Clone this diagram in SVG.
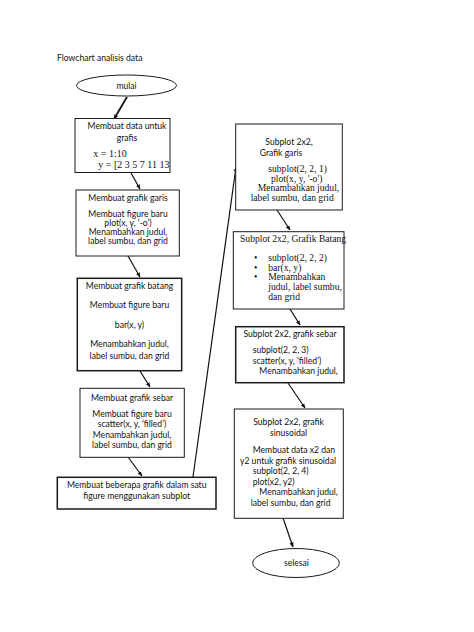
<svg xmlns="http://www.w3.org/2000/svg" width="474" height="632" viewBox="0 0 474 632">
<style>
.bg{fill:#ffffff}
.box{fill:#ffffff;stroke:#1a1a1a;stroke-width:1}
.bold{stroke-width:1.5}
.s{font-family:Lato,"Liberation Sans",sans-serif;font-size:8.6px;fill:#111}
.r{font-family:"Liberation Serif",serif;font-size:9.6px;fill:#111}
.m{text-anchor:middle}
.ln{stroke:#111;stroke-width:1.2;fill:none;marker-end:url(#ah)}
</style>
<defs>
<marker id="ah" viewBox="0 0 10 10" refX="9" refY="5" markerWidth="5" markerHeight="5" orient="auto" markerUnits="userSpaceOnUse">
<path d="M0,1 L10,5 L0,9 z" fill="#111"/>
</marker>
</defs>
<rect class="bg" width="474" height="632"/>
<text id="title" class="s" x="57" y="61">Flowchart analisis data</text>

<g id="connectors">
<line class="ln" x1="127" y1="97" x2="114" y2="119" style="stroke-width:1.8"/>
<line class="ln" x1="131" y1="173" x2="140" y2="189"/>
<line class="ln" x1="128" y1="256" x2="140" y2="277"/>
<line class="ln" x1="140" y1="371" x2="150" y2="387"/>
<line class="ln" x1="128" y1="457" x2="142" y2="476"/>
<line class="ln" x1="193" y1="477" x2="236" y2="167"/>
<line class="ln" x1="277" y1="210" x2="290" y2="230"/>
<line class="ln" x1="290" y1="309" x2="300" y2="325"/>
<line class="ln" x1="288" y1="383" x2="305" y2="408"/>
<line class="ln" x1="283" y1="518" x2="293" y2="547"/>
</g>

<g id="mulai">
<ellipse class="box" cx="126.5" cy="85.5" rx="50" ry="10.5"/>
<text class="s m" x="126.5" y="88.5">mulai</text>
</g>

<g id="data">
<rect class="box" x="75" y="118.5" width="95" height="54"/>
<text class="s m" x="127" y="128.5">Membuat data untuk</text>
<text class="s m" x="127" y="140.5">grafis</text>
<text class="r" x="93.3" y="157.3" style="font-size:10px">x = 1:10</text>
<text class="r" x="98.3" y="168.3" style="font-size:10px">y = [2 3 5 7 11 13</text>
</g>

<g id="garis">
<rect class="box" x="76" y="190" width="103.3" height="66"/>
<text class="s m" x="128" y="200.7">Membuat grafik garis</text>
<text class="s m" x="128" y="216.5">Membuat figure baru</text>
<text class="s m" x="128" y="225.5">plot(x, y, ‘-o’)</text>
<text class="s m" x="128" y="234.5">Menambahkan judul,</text>
<text class="s m" x="128" y="243.5">label sumbu, dan grid</text>
</g>

<g id="batang">
<rect class="box bold" x="77.3" y="278.3" width="104.4" height="92.4"/>
<text class="s m" x="129.5" y="289">Membuat grafik batang</text>
<text class="s m" x="129.5" y="307.7">Membuat figure baru</text>
<text class="s m" x="129.5" y="328.3">bar(x, y)</text>
<text class="s m" x="129.5" y="347.3">Menambahkan judul,</text>
<text class="s m" x="129.5" y="359">label sumbu, dan grid</text>
</g>

<g id="sebar">
<rect class="box" x="80" y="388.3" width="104.3" height="69"/>
<text class="s m" x="132" y="400.7">Membuat grafik sebar</text>
<text class="s m" x="132" y="417.3">Membuat figure baru</text>
<text class="s m" x="132" y="427.3">scatter(x, y, ‘filled’)</text>
<text class="s m" x="132" y="437.8">Menambahkan judul,</text>
<text class="s m" x="132" y="448.3">label sumbu, dan grid</text>
</g>

<g id="subplot">
<rect class="box bold" x="57.3" y="477.3" width="158.7" height="31.7"/>
<text class="s m" x="136.7" y="487.5">Membuat beberapa grafik dalam satu</text>
<text class="s m" x="136.7" y="498.5">figure menggunakan subplot</text>
</g>

<g id="sp1">
<rect class="box" x="235.7" y="124" width="106.6" height="86"/>
<text class="s m" x="289" y="145">Subplot 2x2,</text>
<text class="s m" x="281" y="156">Grafik garis</text>
<text class="r" x="268.3" y="172">subplot(2, 2, 1)</text>
<text class="r" x="271" y="181.5">plot(x, y, '-o')</text>
<text class="r" x="257.7" y="191">Menambahkan judul,</text>
<text class="r" x="250.7" y="200.5">label sumbu, dan grid</text>
</g>

<g id="sp2">
<rect class="box" x="233.3" y="231.7" width="110.7" height="77.3"/>
<text class="r" x="240" y="242.3">Subplot 2x2, Grafik Batang</text>
<text class="r" x="254" y="261">•</text>
<text class="r" x="268.3" y="261">subplot(2, 2, 2)</text>
<text class="r" x="254" y="270.5">•</text>
<text class="r" x="268.3" y="270.5">bar(x, y)</text>
<text class="r" x="254" y="280">•</text>
<text class="r" x="268.3" y="280">Menambahkan</text>
<text class="r" x="268.3" y="289.8">judul, label sumbu,</text>
<text class="r" x="268.3" y="299.5">dan grid</text>
</g>

<g id="sp3">
<rect class="box bold" x="235.7" y="326.7" width="108.3" height="56"/>
<text class="s m" x="290" y="336.7">Subplot 2x2, grafik sebar</text>
<text class="s" x="252.7" y="353.3">subplot(2, 2, 3)</text>
<text class="s" x="252.7" y="363.5">scatter(x, y, ‘filled’)</text>
<text class="s" x="259.3" y="374">Menambahkan judul,</text>
</g>

<g id="sp4">
<rect class="box" x="234.3" y="409" width="109" height="109.3"/>
<text class="s m" x="288.5" y="425">Subplot 2x2, grafik</text>
<text class="s m" x="288.5" y="436">sinusoidal</text>
<text class="s" x="252.7" y="453.3">Membuat data x2 dan</text>
<text class="s" x="240" y="464">y2 untuk grafik sinusoidal</text>
<text class="s" x="252.7" y="474.3">subplot(2, 2, 4)</text>
<text class="s" x="252.7" y="484.5">plot(x2, y2)</text>
<text class="s" x="259.3" y="495">Menambahkan judul,</text>
<text class="s" x="250.7" y="505.7">label sumbu, dan grid</text>
</g>

<g id="selesai">
<ellipse class="box" cx="296" cy="563" rx="43.3" ry="14.5"/>
<text class="s m" x="296.5" y="565.5">selesai</text>
</g>
</svg>
